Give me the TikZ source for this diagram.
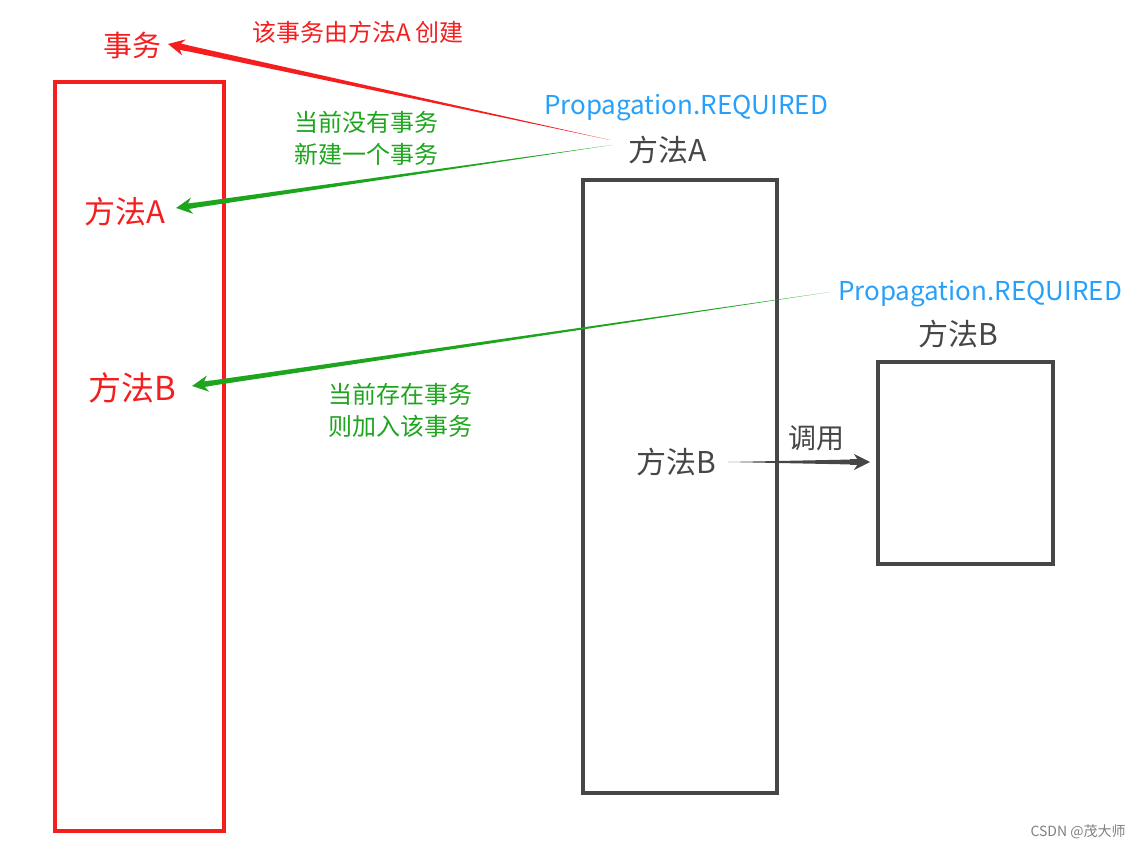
\documentclass[tikz,border=0pt]{standalone}
\usepackage{fontspec}
\setmainfont{Noto Sans CJK SC}
\usetikzlibrary{calc,arrows.meta}
\definecolor{myred}{RGB}{245,30,30}
\definecolor{mygreen}{RGB}{30,165,30}
\definecolor{myblue}{RGB}{40,160,250}
\definecolor{mygray}{RGB}{70,70,70}
\newcommand\taper[4]{%
  \fill[#3] let \p1=($(#2)-(#1)$), \n1={atan2(\y1,\x1)} in
    (#1) -- ($(#2)!6pt!(#1)+(\n1+90:#4)$) -- ($(#2)!6pt!(#1)+(\n1-90:#4)$) -- cycle;
  \draw[#3,line width=2*#4,-{Stealth[length=8pt,width=8pt]}] ($(#2)!10pt!(#1)$) -- (#2);}
\tikzset{lbl/.style={inner sep=0pt,align=center},
  box/.style={line width=1.6pt}}
\begin{document}
\begin{tikzpicture}[x=0.5pt,y=-0.5pt]
\useasboundingbox (0,0) rectangle (1143,849);
\draw[box,myred] (55,82) rectangle (224,831);
\draw[box,mygray] (583,180) rectangle (777,793);
\draw[box,mygray] (878,362) rectangle (1053,564);
\node[lbl,myred,font=\fontsize{14.5}{16}\selectfont] (sw) at (132,46) {事务};
\node[lbl,myred,font=\fontsize{12}{14}\selectfont] (c1) at (358,32) {该事务由方法A 创建};
\node[lbl,myred,font=\fontsize{15.5}{17}\selectfont] (la) at (125,212) {方法A};
\node[lbl,myred,font=\fontsize{16.5}{18}\selectfont] (lb) at (132,388) {方法B};
\node[lbl,mygreen,font=\fontsize{12}{16}\selectfont] (g1) at (366,138) {当前没有事务\\新建一个事务};
\node[lbl,mygreen,font=\fontsize{12}{16}\selectfont] (g2) at (400,410) {当前存在事务\\则加入该事务};
\node[lbl,myblue,font=\fontsize{13}{15}\selectfont] (p1) at (686,108) {Propagation.REQUIRED};
\node[lbl,myblue,font=\fontsize{13}{15}\selectfont] (p2) at (980,294) {Propagation.REQUIRED};
\node[lbl,mygray,font=\fontsize{15}{17}\selectfont] (ma) at (668,150) {方法A};
\node[lbl,mygray,font=\fontsize{15}{17}\selectfont] (mb) at (958,334) {方法B};
\node[lbl,mygray,font=\fontsize{15}{17}\selectfont] (mb2) at (676,462) {方法B};
\node[lbl,mygray,font=\fontsize{14}{16}\selectfont] (dy) at (816,438) {调用};
\node[lbl,gray,font=\fontsize{7}{8}\selectfont] (cs) at (1078,832) {CSDN @茂大师};
\coordinate (s1) at (610,140); \coordinate (e1) at (168,44);
\coordinate (s2) at (612,145); \coordinate (e2) at (176,208);
\coordinate (s3) at (830,292); \coordinate (e3) at (192,386);
\coordinate (s4) at (728,462); \coordinate (e4) at (870,462);
\taper{s1}{e1}{myred}{1.5pt}
\taper{s2}{e2}{mygreen}{1.3pt}
\taper{s3}{e3}{mygreen}{1.3pt}
\taper{s4}{e4}{mygray}{1.3pt}
\end{tikzpicture}
\end{document}
